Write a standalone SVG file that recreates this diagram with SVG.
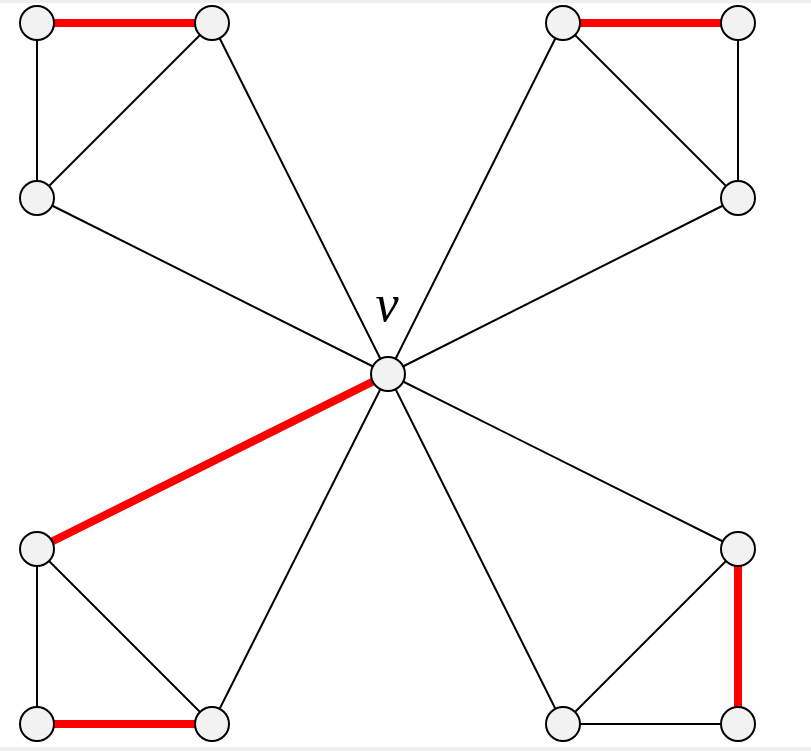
<svg xmlns="http://www.w3.org/2000/svg" width="811" height="751" viewBox="0 0 811 751">
<style>
.e{stroke:#000;stroke-width:2;fill:none}
.r{stroke:#ff0000;stroke-width:8;fill:none}
.n{fill:#f2f2f2;stroke:#000;stroke-width:2}
</style>
<rect x="0" y="0" width="811" height="751" fill="#fff"/>
<rect x="0" y="0" width="811" height="3" fill="#eeeeee"/>
<rect x="0" y="747" width="811" height="4" fill="#eeeeee"/>
<g id="connectors">
<line class="e" x1="37" y1="23" x2="37" y2="198"/>
<line class="e" x1="212" y1="23" x2="37" y2="198"/>
<line class="e" x1="212" y1="23" x2="388" y2="374"/>
<line class="e" x1="37" y1="198" x2="388" y2="374"/>
<line class="e" x1="563" y1="23" x2="738" y2="198"/>
<line class="e" x1="738" y1="23" x2="738" y2="198"/>
<line class="e" x1="563" y1="23" x2="388" y2="374"/>
<line class="e" x1="738" y1="198" x2="388" y2="374"/>
<line class="e" x1="37" y1="549" x2="37" y2="724"/>
<line class="e" x1="37" y1="549" x2="212" y2="724"/>
<line class="e" x1="212" y1="724" x2="388" y2="374"/>
<line class="e" x1="738" y1="549" x2="563" y2="724"/>
<line class="e" x1="563" y1="724" x2="738" y2="724"/>
<line class="e" x1="563" y1="724" x2="388" y2="374"/>
<line class="e" x1="738" y1="549" x2="388" y2="374"/>
<line class="r" x1="37" y1="23" x2="212" y2="23"/>
<line class="r" x1="563" y1="23" x2="738" y2="23"/>
<line class="r" x1="37" y1="549" x2="388" y2="374"/>
<line class="r" x1="37" y1="724" x2="212" y2="724"/>
<line class="r" x1="738" y1="549" x2="738" y2="724"/>
</g>
<g id="n1"><circle class="n" cx="37" cy="23" r="17"/></g>
<g id="n2"><circle class="n" cx="212" cy="23" r="17"/></g>
<g id="n3"><circle class="n" cx="37" cy="198" r="17"/></g>
<g id="n4"><circle class="n" cx="563" cy="23" r="17"/></g>
<g id="n5"><circle class="n" cx="738" cy="23" r="17"/></g>
<g id="n6"><circle class="n" cx="738" cy="198" r="17"/></g>
<g id="v"><circle class="n" cx="388" cy="374" r="17"/>
<text x="387" y="321" font-family="'Liberation Serif', serif" font-style="italic" font-size="52" text-anchor="middle">v</text></g>
<g id="n7"><circle class="n" cx="37" cy="549" r="17"/></g>
<g id="n8"><circle class="n" cx="37" cy="724" r="17"/></g>
<g id="n9"><circle class="n" cx="212" cy="724" r="17"/></g>
<g id="n10"><circle class="n" cx="738" cy="549" r="17"/></g>
<g id="n11"><circle class="n" cx="563" cy="724" r="17"/></g>
<g id="n12"><circle class="n" cx="738" cy="724" r="17"/></g>
</svg>
